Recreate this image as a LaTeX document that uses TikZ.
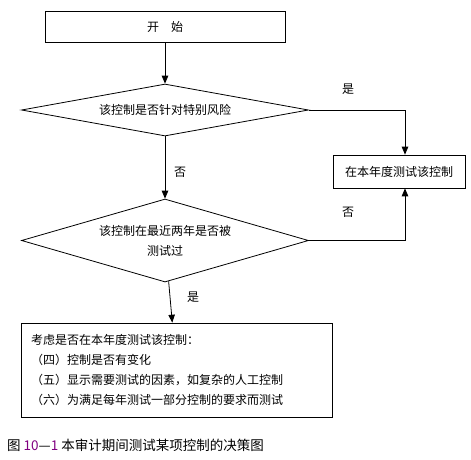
\documentclass[tikz,border=0pt]{standalone}
\usepackage{fontspec}
\newfontfamily\cjk{Noto Sans CJK SC}
\usepackage{tikz}
\usetikzlibrary{arrows,shapes.geometric}
\definecolor{numpurple}{RGB}{128,0,128}

\begin{document}
\begin{tikzpicture}[x=1pt,y=-1pt,every node/.style={font=\cjk\fontsize{12}{20}\selectfont,inner sep=0pt},
    stepbox/.style={draw,thick,rectangle},
    choice/.style={draw,thick,diamond,inner sep=0pt},
    flow/.style={thick,-triangle 45}]
    \useasboundingbox (0,0) rectangle (471,459);
    % boxes and decisions
    \node[stepbox,minimum width=240pt,minimum height=31pt] (start) at (165,26.5) {开\quad 始};
    \node[choice,aspect=5.52,minimum width=287pt,minimum height=52pt] (q1) at (165,110) {该控制是否针对特别风险};
    \node[stepbox,minimum width=132pt,minimum height=33pt] (test) at (399,171.5) {在本年度测试该控制};
    \node[choice,aspect=3.46,minimum width=287pt,minimum height=83pt,align=center] (q2) at (165,240.5) {该控制在最近两年是否被\\测试过};
    \node[stepbox,minimum width=311pt,minimum height=94pt,text width=291pt,inner xsep=10pt,align=left] (think) at (176.5,370)
     {考虑是否在本年度测试该控制：\\（四）控制是否有变化\\（五）显示需要测试的因素，如复杂的人工控制\\（六）为满足每年测试一部分控制的要求而测试};
    \coordinate (testtop) at ([xshift=6pt]test.north);
    \coordinate (testbot) at ([xshift=6pt]test.south);
    % labels
    \node (yes1) at (348,89) {是};
    \node (no1) at (180,172) {否};
    \node (no2) at (348,212) {否};
    \node (yes2) at (193,297) {是};
    \node[anchor=west,font=\cjk\fontsize{13.5}{15}\selectfont] (cap) at (7,445) {图 \textcolor{numpurple}{10}—\textcolor{numpurple}{1} 本审计期间测试某项控制的决策图};

    \path[flow]
     (start) edge (q1)
     (q1) edge (q2)
     (q2) edge (think);
    \draw[flow] (q1.east) -| (testtop);
    \draw[flow] (q2.east) -| (testbot);
   \end{tikzpicture}
\end{document}
